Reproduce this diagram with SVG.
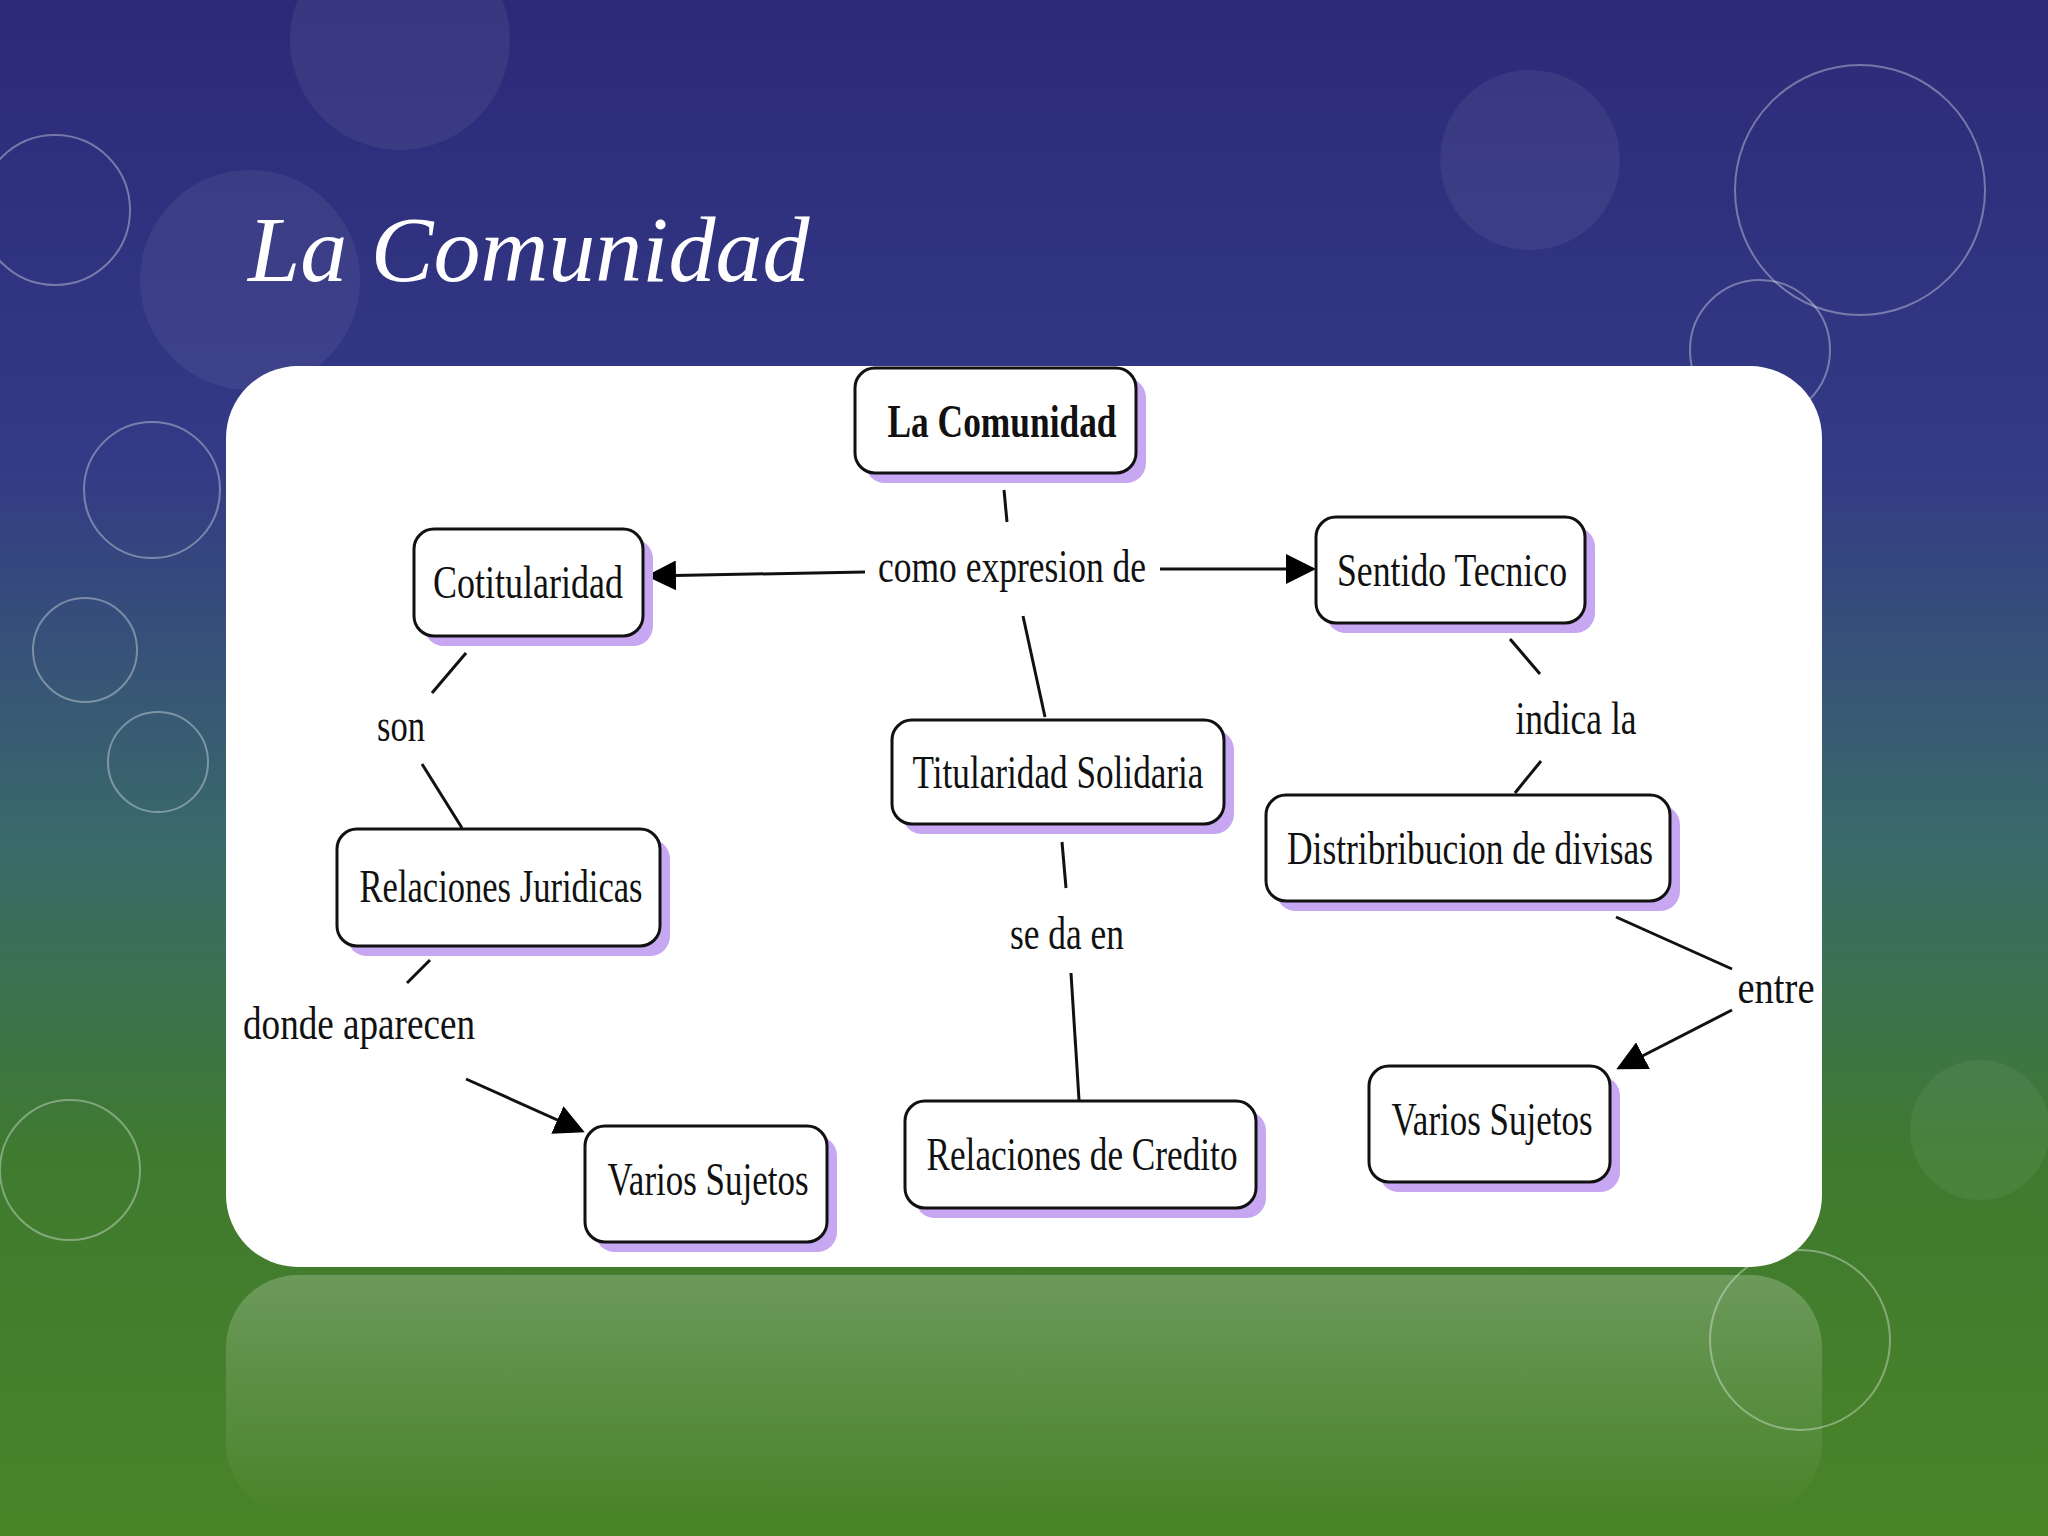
<svg xmlns="http://www.w3.org/2000/svg" width="2048" height="1536" viewBox="0 0 2048 1536">
<defs>
<linearGradient id="bg" x1="0" y1="0" x2="0" y2="1">
<stop offset="0" stop-color="#2c2a78"/>
<stop offset="0.3" stop-color="#333a86"/>
<stop offset="0.55" stop-color="#3a6a6a"/>
<stop offset="0.75" stop-color="#3f7a30"/>
<stop offset="1" stop-color="#4a8428"/>
</linearGradient>
<linearGradient id="refl" x1="0" y1="0" x2="0" y2="1">
<stop offset="0" stop-color="#ffffff" stop-opacity="0.22"/>
<stop offset="1" stop-color="#ffffff" stop-opacity="0"/>
</linearGradient>
<marker id="ah" viewBox="0 0 10 10" refX="9" refY="5" markerWidth="30" markerHeight="30" orient="auto" markerUnits="userSpaceOnUse">
<path d="M0,0 L10,5 L0,10 z" fill="#000"/>
</marker>
</defs>
<style>
.box{fill:#fff;stroke:#111;stroke-width:3}
.sh{fill:#c7a6f2}
.t{font-family:"Liberation Serif",serif;font-size:46px;fill:#111;text-anchor:middle}
.b{font-weight:bold}
.ln{stroke:#111;stroke-width:3;fill:none}
.bub{fill:none;stroke:#fff;stroke-opacity:0.35;stroke-width:2}
.bubf{fill:#fff;fill-opacity:0.06}
</style>
<rect width="2048" height="1536" fill="url(#bg)"/>
<g>
<circle class="bub" cx="55" cy="210" r="75"/>
<circle class="bub" cx="152" cy="490" r="68"/>
<circle class="bub" cx="85" cy="650" r="52"/>
<circle class="bub" cx="158" cy="762" r="50"/>
<circle class="bub" cx="70" cy="1170" r="70"/>
<circle class="bub" cx="1860" cy="190" r="125"/>
<circle class="bub" cx="1760" cy="350" r="70"/>
<circle class="bub" cx="1800" cy="1340" r="90"/>
<circle class="bubf" cx="1530" cy="160" r="90"/>
<circle class="bubf" cx="250" cy="280" r="110"/>
<circle class="bubf" cx="400" cy="40" r="110"/>
<circle class="bubf" cx="1980" cy="1130" r="70"/>
</g>
<text x="248" y="281" font-family="Liberation Serif,serif" font-style="italic" font-size="94" fill="#fff">La Comunidad</text>
<rect x="226" y="366" width="1596" height="901" rx="72" fill="#fff"/>
<rect x="226" y="1275" width="1596" height="240" rx="72" fill="url(#refl)"/>
<g id="connectors">
<line class="ln" x1="1004" y1="490" x2="1007" y2="522"/>
<line class="ln" x1="865" y1="572" x2="649" y2="576" marker-end="url(#ah)"/>
<line class="ln" x1="1160" y1="569" x2="1313" y2="569" marker-end="url(#ah)"/>
<line class="ln" x1="1023" y1="616" x2="1045" y2="717"/>
<line class="ln" x1="466" y1="653" x2="432" y2="693"/>
<line class="ln" x1="422" y1="764" x2="462" y2="828"/>
<line class="ln" x1="430" y1="960" x2="407" y2="983"/>
<line class="ln" x1="466" y1="1079" x2="582" y2="1131" marker-end="url(#ah)"/>
<line class="ln" x1="1510" y1="639" x2="1540" y2="674"/>
<line class="ln" x1="1541" y1="761" x2="1515" y2="793"/>
<line class="ln" x1="1062" y1="842" x2="1066" y2="888"/>
<line class="ln" x1="1071" y1="973" x2="1079" y2="1100"/>
<line class="ln" x1="1616" y1="917" x2="1732" y2="969"/>
<line class="ln" x1="1732" y1="1010" x2="1619" y2="1068" marker-end="url(#ah)"/>
</g>
<g id="labels">
<text class="t" x="1012" y="582" textLength="268" lengthAdjust="spacingAndGlyphs">como expresion de</text>
<text class="t" x="401" y="741" textLength="48" lengthAdjust="spacingAndGlyphs">son</text>
<text class="t" x="1576" y="734" textLength="121" lengthAdjust="spacingAndGlyphs">indica la</text>
<text class="t" x="1067" y="949" textLength="114" lengthAdjust="spacingAndGlyphs">se da en</text>
<text class="t" x="359" y="1039" textLength="232" lengthAdjust="spacingAndGlyphs">donde  aparecen</text>
<text class="t" x="1776" y="1003" textLength="77" lengthAdjust="spacingAndGlyphs">entre</text>
</g>
<g id="n1"><rect class="sh" x="865" y="378" width="281" height="105" rx="20"/><rect class="box" x="855" y="368" width="281" height="105" rx="20"/><text class="t b" x="1002" y="437" textLength="229" lengthAdjust="spacingAndGlyphs">La Comunidad</text></g>
<g id="n2"><rect class="sh" x="424" y="539" width="229" height="107" rx="20"/><rect class="box" x="414" y="529" width="229" height="107" rx="20"/><text class="t" x="528" y="598" textLength="190" lengthAdjust="spacingAndGlyphs">Cotitularidad</text></g>
<g id="n3"><rect class="sh" x="1326" y="527" width="269" height="106" rx="20"/><rect class="box" x="1316" y="517" width="269" height="106" rx="20"/><text class="t" x="1452" y="586" textLength="230" lengthAdjust="spacingAndGlyphs">Sentido Tecnico</text></g>
<g id="n4"><rect class="sh" x="902" y="730" width="332" height="104" rx="20"/><rect class="box" x="892" y="720" width="332" height="104" rx="20"/><text class="t" x="1058" y="788" textLength="291" lengthAdjust="spacingAndGlyphs">Titularidad Solidaria</text></g>
<g id="n5"><rect class="sh" x="347" y="839" width="323" height="117" rx="20"/><rect class="box" x="337" y="829" width="323" height="117" rx="20"/><text class="t" x="501" y="902" textLength="283" lengthAdjust="spacingAndGlyphs">Relaciones Juridicas</text></g>
<g id="n6"><rect class="sh" x="1276" y="805" width="404" height="106" rx="20"/><rect class="box" x="1266" y="795" width="404" height="106" rx="20"/><text class="t" x="1470" y="864" textLength="366" lengthAdjust="spacingAndGlyphs">Distribribucion de divisas</text></g>
<g id="n7"><rect class="sh" x="595" y="1136" width="242" height="116" rx="20"/><rect class="box" x="585" y="1126" width="242" height="116" rx="20"/><text class="t" x="708" y="1195" textLength="201" lengthAdjust="spacingAndGlyphs">Varios Sujetos</text></g>
<g id="n8"><rect class="sh" x="915" y="1111" width="351" height="107" rx="20"/><rect class="box" x="905" y="1101" width="351" height="107" rx="20"/><text class="t" x="1082" y="1170" textLength="311" lengthAdjust="spacingAndGlyphs">Relaciones de Credito</text></g>
<g id="n9"><rect class="sh" x="1379" y="1076" width="241" height="116" rx="20"/><rect class="box" x="1369" y="1066" width="241" height="116" rx="20"/><text class="t" x="1492" y="1135" textLength="201" lengthAdjust="spacingAndGlyphs">Varios Sujetos</text></g>
</svg>
